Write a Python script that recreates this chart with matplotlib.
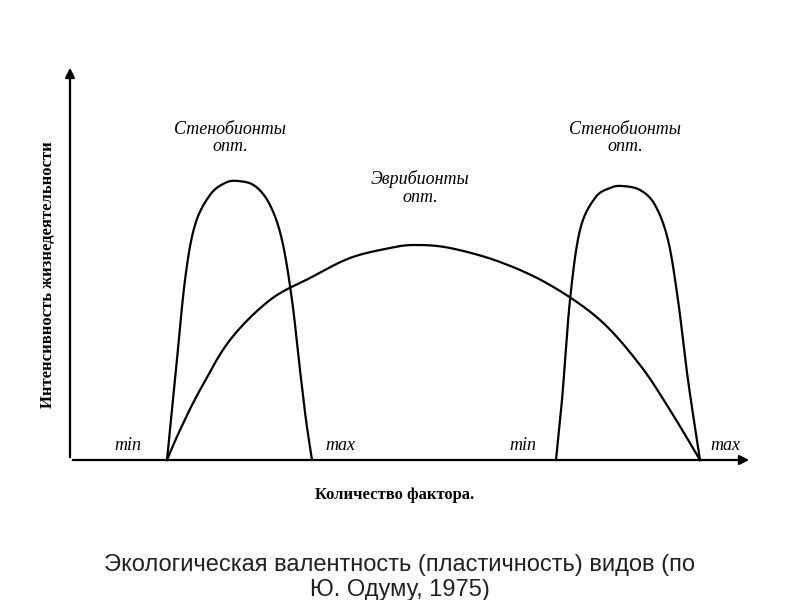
import numpy as np
import matplotlib
matplotlib.use("Agg")
import matplotlib.pyplot as plt

# factor amount (x) and intensity (y), origin at axes crossing
steno1_x = [97,105,115,125,140,155,168,185,200,212,222,230,236,242]
steno1_y = [0,80,180,235,265,277,279,274,255,220,160,90,40,0]
steno2_x = [486,492,500,510,525,540,552,570,585,598,608,618,630]
steno2_y = [0,60,160,230,262,272,274,270,255,220,160,80,0]
eury_x = [97,110,130,160,200,240,280,320,345,380,430,480,530,570,600,630]
eury_y = [0,30,70,120,160,182,202,212,215,212,198,175,140,95,50,0]

def smooth(x, y, n=20):
    x = np.array(x, float); y = np.array(y, float)
    P = np.vstack([x, y]).T
    P = np.vstack([P[0], P, P[-1]])
    out = []
    for i in range(1, len(P) - 2):
        p0, p1, p2, p3 = P[i-1], P[i], P[i+1], P[i+2]
        for t in np.linspace(0, 1, n, endpoint=False):
            out.append(0.5*((2*p1) + (-p0+p2)*t + (2*p0-5*p1+4*p2-p3)*t**2 + (-p0+3*p1-3*p2+p3)*t**3))
    out.append(P[-2])
    out = np.array(out)
    return out[:, 0], out[:, 1]

fig = plt.figure(figsize=(8, 6), dpi=100)
ax = fig.add_axes([0, 0, 1, 1])
ax.set_xlim(-70, 730)
ax.set_ylim(-140, 460)
ax.axis("off")

for xs, ys in [(steno1_x, steno1_y), (steno2_x, steno2_y), (eury_x, eury_y)]:
    sx, sy = smooth(xs, ys)
    ax.plot(sx, sy, color="black", lw=1.6)

ax.annotate("", xy=(682, 0), xytext=(0, 0),
            arrowprops=dict(arrowstyle="-|>", color="black", lw=1.6, mutation_scale=14))
ax.annotate("", xy=(0, 395), xytext=(0, 0),
            arrowprops=dict(arrowstyle="-|>", color="black", lw=1.6, mutation_scale=14))

serif = "Liberation Serif"
ti = dict(family=serif, style="italic", fontsize=13, ha="center", va="center", linespacing=1.05)
ax.text(160, 322, "Стенобионты\nопт.", **ti)
ax.text(555, 322, "Стенобионты\nопт.", **ti)
ax.text(350, 272, "Эврибионты\nопт.", **ti)
ax.text(58, 15, "min", **ti)
ax.text(270, 15, "max", **ti)
ax.text(453, 15, "min", **ti)
ax.text(655, 15, "max", **ti)
ax.text(-22, 185, "Интенсивность жизнедеятельности", family=serif, fontweight="bold",
        fontsize=12, rotation=90, ha="center", va="center")
ax.text(325, -35, "Количество фактора.", family=serif, fontweight="bold",
        fontsize=12, ha="center", va="center")
ax.text(330, -94, "Экологическая валентность (пластичность) видов (по\nЮ. Одуму, 1975)",
        family="Liberation Sans", fontsize=17, ha="center", va="top", color="#222222",
        linespacing=1.15)
fig.savefig("out.png", dpi=100)
